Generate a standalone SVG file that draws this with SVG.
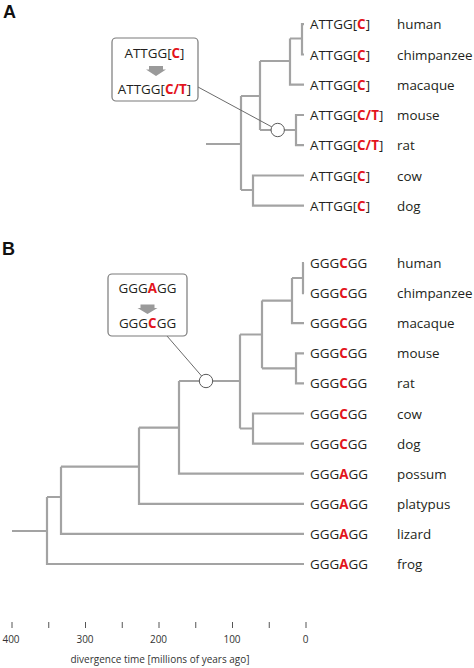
<svg xmlns="http://www.w3.org/2000/svg" width="474" height="668" viewBox="0 0 474 668">
<style>
.br{fill:none;stroke:#a3a3a3;stroke-width:2.2;stroke-linejoin:miter;stroke-linecap:butt}
.cn{fill:none;stroke:#6b6b6b;stroke-width:1}
.ci{fill:#fff;stroke:#5a5a5a;stroke-width:1}
.bx{fill:#fff;stroke:#7a7a7a;stroke-width:1.2}
.ar{fill:#9a9a9a}
text{font-family:"Open Sans","Noto Sans","Liberation Sans",sans-serif;fill:#231f20}
.t{font-size:13.4px}
.r{fill:#e3141c;font-weight:bold}
.pl{font-family:"Liberation Sans",Arial,sans-serif;font-weight:bold;font-size:18px;fill:#111}
.ax{font-size:10px;fill:#333}
.tk{stroke:#555;stroke-width:1}
</style>

<text class="pl" x="3" y="18">A</text>
<text class="pl" x="2" y="255">B</text>

<g id="connectors">
  <!-- Panel A tree -->
  <path class="br" d="M304,24.2 H302 V54.5 H304 M302,38.5 H290 M290,38.5 V84.7 H304 M290,61 H260 M304,115 H296 V145.2 H304 M296,130 H260 M260,61 V130 M260,96 H241 M304,175.5 H253 V205.7 H304 M253,190 H241 M241,96 V190 M206,144 H241"/>
  <line class="cn" x1="198" y1="87" x2="271.8" y2="126.9"/>
  <!-- Panel B tree -->
  <path class="br" d="M304,263 H303 V293.1 H304 M303,278 H292 M292,278 V323.2 H304 M292,300.6 H262 M304,353.3 H296 V383.4 H304 M296,368.3 H262 M262,300.6 V368.3 M262,334.5 H240 M304,413.5 H253 V443.6 H304 M253,428.5 H240 M240,334.5 V428.5 M240,381 H179 M179,381 V473.7 H304 M179,427.6 H139 M139,427.6 V503.8 H304 M139,466.7 H61 M61,466.7 V533.9 H304 M61,497 H47 M47,497 V564 H304 M47,531 H12"/>
  <line class="cn" x1="167" y1="336" x2="201.6" y2="376"/>
</g>

<g id="mutationA">
  <circle class="ci" cx="277.7" cy="130" r="6.7"/>
  <rect class="bx" x="112" y="38" width="86" height="63" rx="4"/>
  <text class="t" x="154.5" y="58" text-anchor="middle">ATTGG[<tspan class="r">C</tspan>]</text>
  <path class="ar" d="M149,66 H163 V69.5 H166 L156,76 L146,69.5 H149 Z"/>
  <text class="t" x="154.5" y="94" text-anchor="middle">ATTGG[<tspan class="r">C/T</tspan>]</text>
</g>

<g id="mutationB">
  <circle class="ci" cx="206" cy="381" r="6.7"/>
  <rect class="bx" x="108" y="274" width="79" height="62" rx="4"/>
  <text class="t" x="147.5" y="293" text-anchor="middle">GGG<tspan class="r">A</tspan>GG</text>
  <path class="ar" d="M140.5,304.5 H154.5 V308 H157.5 L147.5,314 L137.5,308 H140.5 Z"/>
  <text class="t" x="147.5" y="328" text-anchor="middle">GGG<tspan class="r">C</tspan>GG</text>
</g>

<g id="tipsA">
  <g id="a-human"><text class="t" x="310" y="29.2">ATTGG[<tspan class="r">C</tspan>]</text><text class="t" x="397" y="29.2">human</text></g>
  <g id="a-chimpanzee"><text class="t" x="310" y="59.5">ATTGG[<tspan class="r">C</tspan>]</text><text class="t" x="397" y="59.5">chimpanzee</text></g>
  <g id="a-macaque"><text class="t" x="310" y="89.7">ATTGG[<tspan class="r">C</tspan>]</text><text class="t" x="397" y="89.7">macaque</text></g>
  <g id="a-mouse"><text class="t" x="310" y="120">ATTGG[<tspan class="r">C/T</tspan>]</text><text class="t" x="397" y="120">mouse</text></g>
  <g id="a-rat"><text class="t" x="310" y="150.2">ATTGG[<tspan class="r">C/T</tspan>]</text><text class="t" x="397" y="150.2">rat</text></g>
  <g id="a-cow"><text class="t" x="310" y="180.5">ATTGG[<tspan class="r">C</tspan>]</text><text class="t" x="397" y="180.5">cow</text></g>
  <g id="a-dog"><text class="t" x="310" y="210.7">ATTGG[<tspan class="r">C</tspan>]</text><text class="t" x="397" y="210.7">dog</text></g>
</g>

<g id="tipsB">
  <g id="b-human"><text class="t" x="310" y="268">GGG<tspan class="r">C</tspan>GG</text><text class="t" x="397" y="268">human</text></g>
  <g id="b-chimpanzee"><text class="t" x="310" y="298.1">GGG<tspan class="r">C</tspan>GG</text><text class="t" x="397" y="298.1">chimpanzee</text></g>
  <g id="b-macaque"><text class="t" x="310" y="328.2">GGG<tspan class="r">C</tspan>GG</text><text class="t" x="397" y="328.2">macaque</text></g>
  <g id="b-mouse"><text class="t" x="310" y="358.3">GGG<tspan class="r">C</tspan>GG</text><text class="t" x="397" y="358.3">mouse</text></g>
  <g id="b-rat"><text class="t" x="310" y="388.4">GGG<tspan class="r">C</tspan>GG</text><text class="t" x="397" y="388.4">rat</text></g>
  <g id="b-cow"><text class="t" x="310" y="418.5">GGG<tspan class="r">C</tspan>GG</text><text class="t" x="397" y="418.5">cow</text></g>
  <g id="b-dog"><text class="t" x="310" y="448.6">GGG<tspan class="r">C</tspan>GG</text><text class="t" x="397" y="448.6">dog</text></g>
  <g id="b-possum"><text class="t" x="310" y="478.7">GGG<tspan class="r">A</tspan>GG</text><text class="t" x="397" y="478.7">possum</text></g>
  <g id="b-platypus"><text class="t" x="310" y="508.8">GGG<tspan class="r">A</tspan>GG</text><text class="t" x="397" y="508.8">platypus</text></g>
  <g id="b-lizard"><text class="t" x="310" y="538.9">GGG<tspan class="r">A</tspan>GG</text><text class="t" x="397" y="538.9">lizard</text></g>
  <g id="b-frog"><text class="t" x="310" y="569">GGG<tspan class="r">A</tspan>GG</text><text class="t" x="397" y="569">frog</text></g>
</g>

<g id="axis">
  <path class="tk" d="M12,622 V628 M48.75,622 V628 M85.5,622 V628 M122.25,622 V628 M159,622 V628 M195.75,622 V628 M232.5,622 V628 M269.25,622 V628 M306,622 V628"/>
  <text class="ax" x="11" y="643" text-anchor="middle">400</text>
  <text class="ax" x="85" y="643" text-anchor="middle">300</text>
  <text class="ax" x="158.5" y="643" text-anchor="middle">200</text>
  <text class="ax" x="232" y="643" text-anchor="middle">100</text>
  <text class="ax" x="305.5" y="643" text-anchor="middle">0</text>
  <text class="ax" x="160" y="663" text-anchor="middle" font-size="9.9">divergence time [millions of years ago]</text>
</g>
</svg>
